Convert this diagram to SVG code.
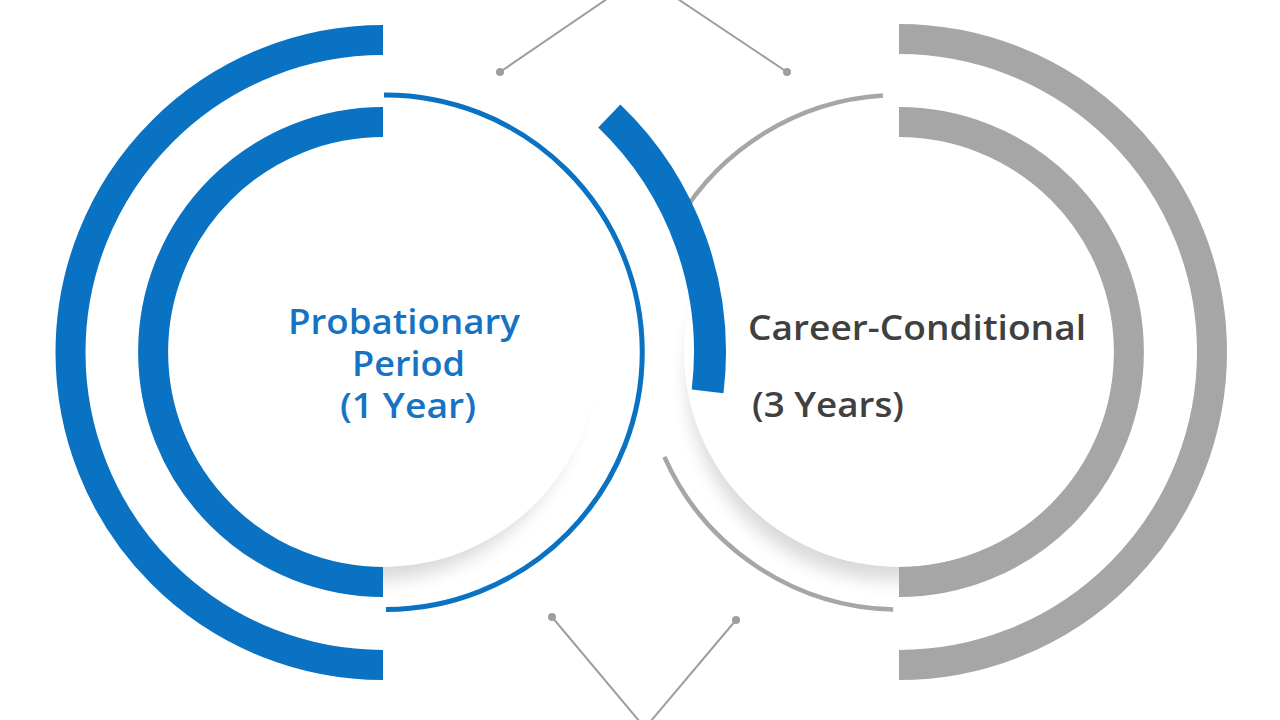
<svg xmlns="http://www.w3.org/2000/svg" width="1280" height="720" viewBox="0 0 1280 720">
  <defs>
    <filter id="soft" x="-30%" y="-30%" width="160%" height="160%">
      <feGaussianBlur stdDeviation="9"/>
    </filter>
    <style>
      .blue { stroke: #0A72C2; fill: none; stroke-linecap: butt; }
      .gray { stroke: #A6A6A6; fill: none; stroke-linecap: butt; }
      .thick { stroke-width: 30; }
      .thin { stroke-width: 4.5; }
      .conn { stroke: #9E9E9E; stroke-width: 2; fill: none; }
      .dot { fill: #9E9E9E; }
      .shadow { fill: #000; opacity: 0.15; filter: url(#soft); }
      .label { font-family: "Open Sans", Lato, "Liberation Sans", sans-serif; font-weight: 600; font-size: 35px; }
    </style>
  </defs>
  <rect width="1280" height="720" fill="#FFFFFF"/>

  <g id="connectors">
    <line class="conn" x1="500" y1="72" x2="642" y2="-25"/>
    <line class="conn" x1="787" y1="72" x2="642" y2="-25"/>
    <circle class="dot" cx="500" cy="72" r="4"/>
    <circle class="dot" cx="787" cy="72" r="4"/>
    <line class="conn" x1="552" y1="617" x2="645" y2="728"/>
    <line class="conn" x1="736" y1="620" x2="645" y2="728"/>
    <circle class="dot" cx="552" cy="617" r="4"/>
    <circle class="dot" cx="736" cy="620" r="4"/>
  </g>

  <g id="career-conditional">
    <circle class="shadow" cx="891" cy="377" r="203"/>
    <circle cx="899" cy="352" r="215" fill="#FFFFFF"/>
    <path class="gray thin" d="M 882.9 95.5 A 257 257 0 0 0 678.7 219.6"/>
    <path class="gray thin" d="M 664.4 456.9 A 257 257 0 0 0 893.2 609.5"/>
    <path class="gray thick" d="M 899 39 A 313 313 0 0 1 899 665"/>
    <path class="gray thick" d="M 899 122 A 230 230 0 0 1 899 582"/>
    <text class="label" x="748" y="340" fill="#404040" textLength="338" lengthAdjust="spacingAndGlyphs">Career-Conditional</text>
    <text class="label" x="752" y="417" fill="#404040" textLength="152" lengthAdjust="spacingAndGlyphs">(3 Years)</text>
  </g>

  <g id="probationary">
    <circle class="shadow" cx="377" cy="377" r="203"/>
    <circle cx="383" cy="352" r="215" fill="#FFFFFF"/>
    <path class="blue" stroke-width="5" d="M 384 95 A 257 257 0 0 1 386 609.5"/>
    <path class="blue thick" d="M 383 40 A 312.5 312.5 0 0 0 383 665"/>
    <path class="blue thick" d="M 383 122 A 230 230 0 0 0 383 582"/>
    <path class="blue" stroke-width="32" d="M 609.3 116 A 327 327 0 0 1 707.6 391.3"/>
    <g class="label" fill="#1673C3">
      <text x="288" y="334" textLength="232" lengthAdjust="spacingAndGlyphs">Probationary</text>
      <text x="352" y="376" textLength="113" lengthAdjust="spacingAndGlyphs">Period</text>
      <text x="340" y="418" textLength="136" lengthAdjust="spacingAndGlyphs">(1 Year)</text>
    </g>
  </g>
</svg>
